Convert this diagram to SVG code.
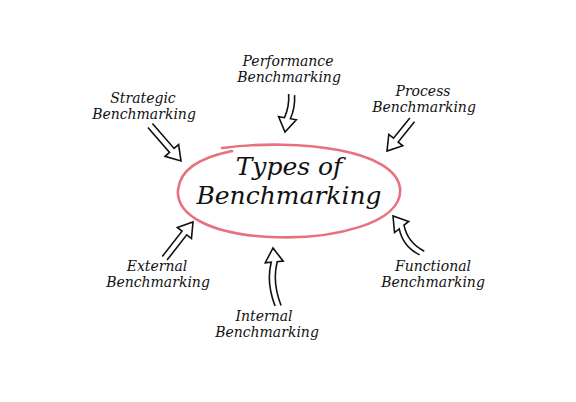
<svg xmlns="http://www.w3.org/2000/svg" width="576" height="402" viewBox="0 0 576 402">
<style>
.t{font-family:"DejaVu Serif","Liberation Serif",serif;font-style:italic;fill:#111;text-anchor:middle}
.s{font-size:14px}
.big{font-size:25px}
.ar{fill:#fff;stroke:#111;stroke-width:1.6;stroke-linejoin:miter}
</style>
<rect width="576" height="402" fill="#fff"/>
<g id="center">
<path d="M222,148 C300,138 395,150 400,188 C404,224 330,240 270,237 C210,234 176,215 178,190 C180,170 198,158 232,151" fill="none" stroke="#e8717b" stroke-width="2.6" stroke-linecap="round"/>
<text class="t big" x="289" y="175">Types of</text>
<text class="t big" x="289" y="204">Benchmarking</text>
</g>
<g id="connectors">
<path class="ar" transform="translate(181,161) rotate(49)" d="M-47,-3 L-14,-3 L-14,-9 L0,0 L-14,9 L-14,3 L-47,3"/>
<path class="ar" transform="translate(387,151) rotate(129)" d="M-40,-3 L-14,-3 L-14,-9 L0,0 L-14,9 L-14,3 L-40,3"/>
<path class="ar" transform="translate(193,222) rotate(-52)" d="M-46,-3 L-14,-3 L-14,-9 L0,0 L-14,9 L-14,3 L-46,3"/>
<path class="ar" transform="translate(285,132) rotate(100)" d="M-38,-3 Q-26,-6 -14,-3 L-14,-9 L0,0 L-14,9 L-14,3 Q-26,0 -38,3"/>
<path class="ar" transform="translate(273,248) rotate(-95)" d="M-58,-3 Q-34,-10 -14,-3 L-14,-9 L0,0 L-14,9 L-14,3 Q-34,-4 -58,3"/>
<path class="ar" transform="translate(393,216) rotate(-128)" d="M-47,-3 Q-30,-11 -14,-3 L-14,-9 L0,0 L-14,9 L-14,3 Q-30,-5 -47,3"/>
</g>
<g id="strategic">
<text class="t s" x="143" y="103">Strategic</text>
<text class="t s" x="144" y="119">Benchmarking</text>
</g>
<g id="performance">
<text class="t s" x="288" y="66">Performance</text>
<text class="t s" x="289" y="82">Benchmarking</text>
</g>
<g id="process">
<text class="t s" x="423" y="96">Process</text>
<text class="t s" x="424" y="112">Benchmarking</text>
</g>
<g id="external">
<text class="t s" x="157" y="271">External</text>
<text class="t s" x="158" y="287">Benchmarking</text>
</g>
<g id="internal">
<text class="t s" x="264" y="321">Internal</text>
<text class="t s" x="267" y="337">Benchmarking</text>
</g>
<g id="functional">
<text class="t s" x="433" y="271">Functional</text>
<text class="t s" x="433" y="287">Benchmarking</text>
</g>
</svg>
